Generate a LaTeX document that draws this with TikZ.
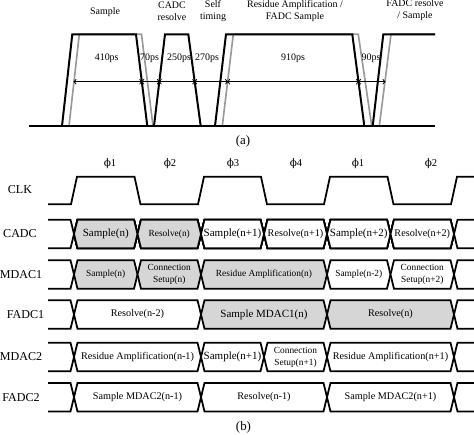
\documentclass[tikz,border=0pt]{standalone}
\usepackage{fontspec}
\setmainfont{Liberation Serif}
\newfontfamily\phifont{DejaVu Serif}
\usepackage{tikz}
\usetikzlibrary{arrows}
\definecolor{cellgray}{gray}{0.84}
\definecolor{edgegray}{gray}{0.6}
\newcommand{\fs}[2]{\fontsize{#1}{#2}\selectfont}
% one bus value: name, row height, from, to, fill, text style, text
\newcommand{\cell}[7]{%
  \filldraw[bus,fill=#5] (#3+3.5,#2-14.3) -- (#4-3.5,#2-14.3) -- (#4,#2) --
    (#4-3.5,#2+14.3) -- (#3+3.5,#2+14.3) -- (#3,#2) -- cycle;
  \node[#6] (#1) at ({(#3+#4)/2},#2) {#7};}
% open ends of a bus row
\newcommand{\busends}[1]{%
  \draw[bus] (48,#1-14.3) -- (70.5,#1-14.3) -- (74,#1) -- (70.5,#1+14.3) -- (48,#1+14.3);
  \draw[bus] (474,#1-14.3) -- (457.5,#1-14.3) -- (454,#1) -- (457.5,#1+14.3) -- (474,#1+14.3);}
\tikzset{
  pulse/.style={line width=1.7pt},
  ghost/.style={line width=1.4pt,edgegray},
  span/.style={<->,>=to,line width=0.8pt,shorten <=-0.5pt,shorten >=-0.5pt},
  bus/.style={line width=1.5pt},
  tlbl/.style={font=\fs{8.5}{10.2},align=center,inner sep=0pt},
  phlbl/.style={font=\fs{9}{10},inner sep=0pt},
  rowlbl/.style={font=\fs{10.3}{12},inner sep=0pt},
  caplbl/.style={font=\fs{11}{12},inner sep=0pt},
  txt/.style={font=\fs{8.7}{10},align=center,inner sep=0pt},
  txtbig/.style={font=\fs{9.4}{10},align=center,inner sep=0pt},
  txtsmall/.style={font=\fs{8}{10.2},align=center,inner sep=0pt},
}
\begin{document}
\begin{tikzpicture}[x=0.03cm,y=-0.03cm]
  \useasboundingbox (0,0) rectangle (474,434);
  % (a) phases
  \draw[ghost] (69,126) -- (79.3,34.3) -- (141.5,34.3) -- (153,126);
  \draw[ghost] (222.3,126) -- (233.3,34.3) -- (358.3,34.3) -- (371.7,126);
  \draw[ghost] (379.3,126) -- (391,34.3) -- (435,34.3);
  \draw[pulse] (29,126) -- (435,126);
  \draw[pulse] (62,126) -- (72.3,34.3) -- (136,34.3) -- (147.3,126);
  \draw[pulse] (154,126) -- (165,34.3) -- (188.3,34.3) -- (200.7,126);
  \draw[pulse] (215,126) -- (226,34.3) -- (352.3,34.3) -- (364.3,126);
  \draw[pulse] (372.7,126) -- (383.3,34.3) -- (435,34.3);
  \foreach \x [count=\i from 0] in {74,141.8,159.3,194.7,227.6,358.5,385}
    \coordinate (m\i) at (\x,81.7);
  \foreach \a/\b in {0/1,1/2,2/3,3/4,4/5,5/6}
    \draw[span] (m\a) -- (m\b);
  \node[tlbl] (t410) at (106.7,58.3) {410ps};
  \node[tlbl] (t70) at (149.5,58.3) {70ps};
  \node[tlbl] (t250) at (179,58.3) {250ps};
  \node[tlbl] (t270) at (207,58.3) {270ps};
  \node[tlbl] (t910) at (293,58.3) {910ps};
  \node[tlbl] (t90) at (371,58.3) {90ps};
  \node[tlbl] (psample) at (105,12) {Sample};
  \node[tlbl] (pcadc) at (172,11) {CADC\\resolve};
  \node[tlbl] (pself) at (213,11) {Self\\timing};
  \node[tlbl] (pres) at (295,11) {Residue Amplification /\\FADC Sample};
  \node[tlbl] (pfadc) at (415,10) {FADC resolve\\/ Sample};
  \node[caplbl] (capa) at (243,141) {(a)};

  % (b) clock and bus rows
  \foreach \x/\n [count=\i] in {110/1,170/2,233/3,296/4,358/1,431/2}
    \node[phlbl] (phi\i) at (\x,163.3) {{\phifont ϕ}\n};
  \draw[bus] (48,204.3) -- (71,204.3) -- (77,176.7) -- (134.5,176.7) --
    (140.5,204.3) -- (198,204.3) -- (204,176.7) -- (261,176.7) --
    (267,204.3) -- (324,204.3) -- (330,176.7) -- (387.5,176.7) --
    (393.5,204.3) -- (451,204.3) -- (457,176.7) -- (474,176.7);
  \node[rowlbl] (clk) at (20,190) {CLK};
  \node[rowlbl] (cadc) at (20,234) {CADC};
  \node[rowlbl] (mdac1) at (21,274.5) {MDAC1};
  \node[rowlbl] (fadc1) at (25.5,314.5) {FADC1};
  \node[rowlbl] (mdac2) at (21,357) {MDAC2};
  \node[rowlbl] (fadc2) at (21,397.2) {FADC2};
  \foreach \y in {234,274.5,314.5,357,397.2}
    \busends{\y}
  \foreach \a/\b/\fc/\st/\txt [count=\i] in {
      74/137.5/cellgray/txtbig/Sample(n),
      137.5/201/cellgray/txtsmall/Resolve(n),
      201/264/white/txtbig/Sample(n+1),
      264/327/white/txt/Resolve(n+1),
      327/390.5/white/txtbig/Sample(n+2),
      390.5/454/white/txt/Resolve(n+2)}
    \cell{cadc\i}{234}{\a}{\b}{\fc}{\st}{\txt};
  \foreach \a/\b/\fc/\st/\txt [count=\i] in {
      74/137.5/cellgray/txtsmall/Sample(n),
      137.5/201/cellgray/txtsmall/Connection\\Setup(n),
      201/327/cellgray/txtsmall/Residue Amplification(n),
      327/390.5/white/txtsmall/Sample(n-2),
      390.5/454/white/txtsmall/Connection\\Setup(n+2)}
    \cell{mdaca\i}{274.5}{\a}{\b}{\fc}{\st}{\txt};
  \foreach \a/\b/\fc/\st/\txt [count=\i] in {
      74/201/white/txt/Resolve(n-2),
      201/327/cellgray/txtbig/Sample MDAC1(n),
      327/454/cellgray/txt/Resolve(n)}
    \cell{fadca\i}{314.5}{\a}{\b}{\fc}{\st}{\txt};
  \foreach \a/\b/\fc/\st/\txt [count=\i] in {
      74/201/white/txt/Residue Amplification(n-1),
      201/264/white/txtbig/Sample(n+1),
      264/327/white/txtsmall/Connection\\Setup(n+1),
      327/454/white/txt/Residue Amplification(n+1)}
    \cell{mdacb\i}{357}{\a}{\b}{\fc}{\st}{\txt};
  \foreach \a/\b/\fc/\st/\txt [count=\i] in {
      74/201/white/txt/Sample MDAC2(n-1),
      201/327/white/txt/Resolve(n-1),
      327/454/white/txt/Sample MDAC2(n+1)}
    \cell{fadcb\i}{397.2}{\a}{\b}{\fc}{\st}{\txt};
  \node[caplbl] (capb) at (243.5,427) {(b)};
\end{tikzpicture}
\end{document}
